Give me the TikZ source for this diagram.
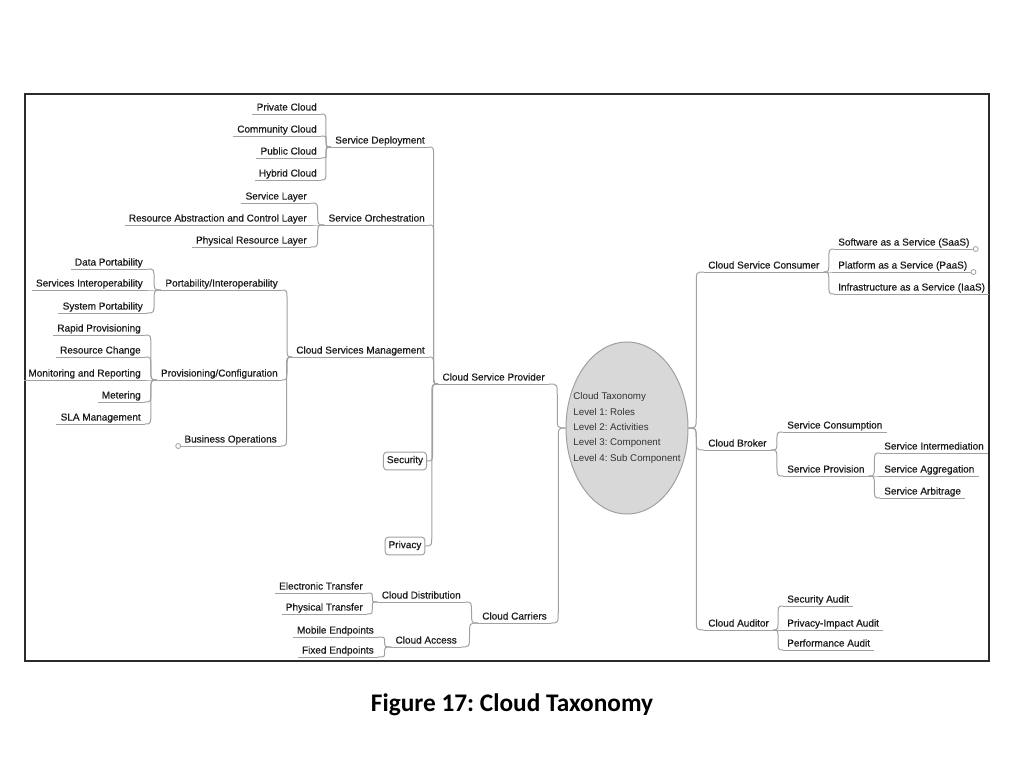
\documentclass[tikz,border=0pt]{standalone}
\usepackage{fontspec}
\setmainfont{Liberation Sans}
\newfontfamily\lblfont{Liberation Sans}[FakeBold=0.45]
\newfontfamily\capfont{Carlito}
\usetikzlibrary{calc,shapes.geometric}
\definecolor{linegray}{HTML}{A0A0A0}
\definecolor{labeltext}{HTML}{1A1A1A}
\definecolor{roottext}{HTML}{333333}
\definecolor{rootfill}{HTML}{D8D8D8}
\definecolor{framecol}{HTML}{2B2B2B}
\frenchspacing
\newcommand\lbranch[4]{\node[lbl,anchor=south east] (#1) at (#2,#3) {#4};
  \draw[uline] (#1.south west) -- (#1.south east);}
\newcommand\rbranch[4]{\node[lbl,anchor=south west] (#1) at (#2,#3) {#4};
  \draw[uline] (#1.south west) -- (#1.south east);}
\newcommand\conn[2]{\draw[conn] let \p1=(#1), \p2=(#2),
  \n1={0.5*\x1+0.5*\x2}, \n2={sign(\y2-\y1)*min(abs(\y2-\y1)/2,9pt)} in
  (\p1) .. controls ({\n1*1pt},\y1) .. ({\n1*1pt},{\y1+\n2*1pt})
  -- ({\n1*1pt},{\y2-\n2*1pt}) .. controls ({\n1*1pt},\y2) .. (\p2);}
\begin{document}
\begin{tikzpicture}[x=0.75pt,y=-0.75pt,
  lbl/.style={font=\lblfont\fontsize{7.5}{9}\selectfont, text=labeltext, inner xsep=3pt, inner ysep=0pt, text height=5.6pt, text depth=2.4pt},
  box/.style={lbl, draw=linegray, fill=white, rounded corners=2.5pt, inner xsep=2.6pt, inner ysep=2.7pt, line width=0.75pt},
  uline/.style={draw=linegray, line width=0.75pt},
  conn/.style={draw=linegray, line width=0.75pt},
  marker/.style={draw=linegray, fill=white, line width=0.6pt}]
\useasboundingbox (0,0) rectangle (1024,768);
\fill[white] (0,0) rectangle (1024,768);
\draw[framecol, line width=1.2pt] (25,94) rectangle (989,661);

% central node
\node[ellipse, draw=linegray, fill=rootfill, line width=0.75pt, minimum width=122pt*0.75, minimum height=172pt*0.75, inner sep=0pt] (root) at (627,428) {};
\node[font=\fontsize{7.3}{11.6}\selectfont, text=roottext, align=left, inner sep=0pt] (rootlbl) at (627,428) {Cloud Taxonomy\\Level 1: Roles\\Level 2: Activities\\Level 3: Component\\Level 4: Sub Component};

% left side
\lbranch{pc}{321}{114}{Private Cloud}
\lbranch{ccl}{321}{136}{Community Cloud}
\lbranch{pubc}{321}{158}{Public Cloud}
\lbranch{hc}{321}{180}{Hybrid Cloud}
\lbranch{sd}{429}{147}{Service Deployment}
\lbranch{sl}{311}{203}{Service Layer}
\lbranch{rac}{311}{225}{Resource Abstraction and Control Layer}
\lbranch{prl}{311}{247}{Physical Resource Layer}
\lbranch{so}{429}{225}{Service Orchestration}
\lbranch{dp}{147}{269}{Data Portability}
\lbranch{si}{147}{290}{Services Interoperability}
\lbranch{sp}{147}{313}{System Portability}
\lbranch{pi}{282}{290}{Portability/Interoperability}
\lbranch{rp}{145}{335}{Rapid Provisioning}
\lbranch{rc}{145}{357}{Resource Change}
\lbranch{mr}{145}{380}{Monitoring and Reporting}
\lbranch{met}{145}{402}{Metering}
\lbranch{sla}{145}{424}{SLA Management}
\lbranch{pcf}{282}{380}{Provisioning/Configuration}
\lbranch{bo}{281}{446}{Business Operations}
\lbranch{csm}{429}{357}{Cloud Services Management}
\lbranch{csp}{549}{384}{Cloud Service Provider}
\node[box] (sec) at (405,461) {Security};
\node[box] (priv) at (405,546) {Privacy};
\lbranch{et}{367}{593}{Electronic Transfer}
\lbranch{ptr}{367}{614}{Physical Transfer}
\lbranch{cd}{465}{602}{Cloud Distribution}
\lbranch{me}{378}{637}{Mobile Endpoints}
\lbranch{fe}{378}{657}{Fixed Endpoints}
\lbranch{cac}{461}{647}{Cloud Access}
\lbranch{car}{551}{623}{Cloud Carriers}

% right side
\rbranch{csc}{704}{272}{Cloud Service Consumer}
\rbranch{saas}{834}{249}{Software as a Service (SaaS)}
\rbranch{paas}{834}{272}{Platform as a Service (PaaS)}
\rbranch{iaas}{834}{294}{Infrastructure as a Service (IaaS)}
\rbranch{cb}{704}{450}{Cloud Broker}
\rbranch{scons}{783}{432}{Service Consumption}
\rbranch{sprov}{783}{476}{Service Provision}
\rbranch{sint}{880}{453}{Service Intermediation}
\rbranch{sagg}{880}{476}{Service Aggregation}
\rbranch{sarb}{880}{498}{Service Arbitrage}
\rbranch{aud}{704}{630}{Cloud Auditor}
\rbranch{sa}{783}{606}{Security Audit}
\rbranch{pia}{783}{630}{Privacy-Impact Audit}
\rbranch{pa}{783}{650}{Performance Audit}

% connectors
\conn{pc.south east}{sd.south west}
\conn{ccl.south east}{sd.south west}
\conn{pubc.south east}{sd.south west}
\conn{hc.south east}{sd.south west}
\conn{sl.south east}{so.south west}
\conn{rac.south east}{so.south west}
\conn{prl.south east}{so.south west}
\conn{dp.south east}{pi.south west}
\conn{si.south east}{pi.south west}
\conn{sp.south east}{pi.south west}
\conn{rp.south east}{pcf.south west}
\conn{rc.south east}{pcf.south west}
\conn{mr.south east}{pcf.south west}
\conn{met.south east}{pcf.south west}
\conn{sla.south east}{pcf.south west}
\conn{pi.south east}{csm.south west}
\conn{pcf.south east}{csm.south west}
\conn{bo.south east}{csm.south west}
\conn{sd.south east}{csp.south west}
\conn{so.south east}{csp.south west}
\conn{csm.south east}{csp.south west}
\conn{sec.east}{csp.south west}
\conn{priv.east}{csp.south west}
\conn{et.south east}{cd.south west}
\conn{ptr.south east}{cd.south west}
\conn{me.south east}{cac.south west}
\conn{fe.south east}{cac.south west}
\conn{cd.south east}{car.south west}
\conn{cac.south east}{car.south west}
\conn{csp.south east}{root.west}
\conn{car.south east}{root.west}
\conn{root.east}{csc.south west}
\conn{root.east}{cb.south west}
\conn{root.east}{aud.south west}
\conn{csc.south east}{saas.south west}
\conn{csc.south east}{paas.south west}
\conn{csc.south east}{iaas.south west}
\conn{cb.south east}{scons.south west}
\conn{cb.south east}{sprov.south west}
\conn{sprov.south east}{sint.south west}
\conn{sprov.south east}{sagg.south west}
\conn{sprov.south east}{sarb.south west}
\conn{aud.south east}{sa.south west}
\conn{aud.south east}{pia.south west}
\conn{aud.south east}{pa.south west}

% small collapsed markers
\draw[marker] ([xshift=-1.5pt]bo.south west) circle (2.5);
\draw[marker] ([xshift=1.5pt]saas.south east) circle (2.5);
\draw[marker] ([xshift=1.5pt]paas.south east) circle (2.5);

% caption
\node[font=\capfont\bfseries\fontsize{19}{23}\selectfont, text=black] (cap) at (512,705) {Figure 17: Cloud Taxonomy};
\end{tikzpicture}
\end{document}
